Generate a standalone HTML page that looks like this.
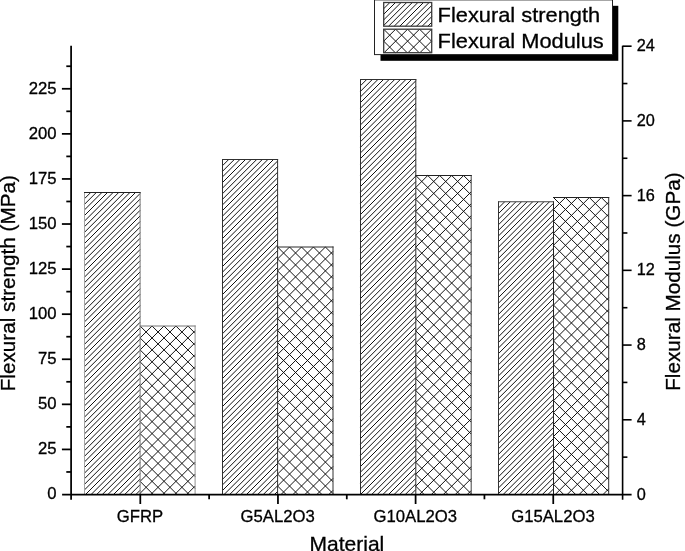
<!DOCTYPE html>
<html><head><meta charset="utf-8"><title>Flexural chart</title>
<style>
html,body{margin:0;padding:0;background:#fff;}
body{width:685px;height:551px;overflow:hidden;}
svg{display:block;font-family:"Liberation Sans",Arial,sans-serif;fill:#000;}
text{stroke:#000;stroke-width:0.3px;}
</style></head><body>
<svg width="685" height="551" viewBox="0 0 685 551">
<rect width="685" height="551" fill="#fff"/>

<g transform="translate(140.10,326.00)"><path d="M0.00,11.95L11.95,0.00M0.00,23.90L23.90,0.00M0.00,35.85L35.85,0.00M0.00,47.80L47.80,0.00M0.00,59.75L55.00,4.75M0.00,71.70L55.00,16.70M0.00,83.65L55.00,28.65M0.00,95.60L55.00,40.60M0.00,107.55L55.00,52.55M0.00,119.50L55.00,64.50M0.00,131.45L55.00,76.45M0.00,143.40L55.00,88.40M0.00,155.35L55.00,100.35M0.00,167.30L55.00,112.30M10.75,168.50L55.00,124.25M22.70,168.50L55.00,136.20M34.65,168.50L55.00,148.15M46.60,168.50L55.00,160.10M0.00,167.30L1.20,168.50M0.00,155.35L13.15,168.50M0.00,143.40L25.10,168.50M0.00,131.45L37.05,168.50M0.00,119.50L49.00,168.50M0.00,107.55L55.00,162.55M0.00,95.60L55.00,150.60M0.00,83.65L55.00,138.65M0.00,71.70L55.00,126.70M0.00,59.75L55.00,114.75M0.00,47.80L55.00,102.80M0.00,35.85L55.00,90.85M0.00,23.90L55.00,78.90M0.00,11.95L55.00,66.95M0.00,0.00L55.00,55.00M11.95,0.00L55.00,43.05M23.90,0.00L55.00,31.10M35.85,0.00L55.00,19.15M47.80,0.00L55.00,7.20" stroke="#0a0a0a" stroke-width="0.97" fill="none"/><path d="M55.00,168.50V0" stroke="#909090" stroke-width="1" fill="none" stroke-linecap="square"/><path d="M0,0H55.00" stroke="#777" stroke-width="1" fill="none" stroke-linecap="square"/></g>
<g transform="translate(84.50,192.50)"><path d="M0.00,6.20L6.20,0.00M0.00,11.80L11.80,0.00M0.00,17.40L17.40,0.00M0.00,23.00L23.00,0.00M0.00,28.60L28.60,0.00M0.00,34.20L34.20,0.00M0.00,39.80L39.80,0.00M0.00,45.40L45.40,0.00M0.00,51.00L51.00,0.00M0.00,56.60L55.60,1.00M0.00,62.20L55.60,6.60M0.00,67.80L55.60,12.20M0.00,73.40L55.60,17.80M0.00,79.00L55.60,23.40M0.00,84.60L55.60,29.00M0.00,90.20L55.60,34.60M0.00,95.80L55.60,40.20M0.00,101.40L55.60,45.80M0.00,107.00L55.60,51.40M0.00,112.60L55.60,57.00M0.00,118.20L55.60,62.60M0.00,123.80L55.60,68.20M0.00,129.40L55.60,73.80M0.00,135.00L55.60,79.40M0.00,140.60L55.60,85.00M0.00,146.20L55.60,90.60M0.00,151.80L55.60,96.20M0.00,157.40L55.60,101.80M0.00,163.00L55.60,107.40M0.00,168.60L55.60,113.00M0.00,174.20L55.60,118.60M0.00,179.80L55.60,124.20M0.00,185.40L55.60,129.80M0.00,191.00L55.60,135.40M0.00,196.60L55.60,141.00M0.00,202.20L55.60,146.60M0.00,207.80L55.60,152.20M0.00,213.40L55.60,157.80M0.00,219.00L55.60,163.40M0.00,224.60L55.60,169.00M0.00,230.20L55.60,174.60M0.00,235.80L55.60,180.20M0.00,241.40L55.60,185.80M0.00,247.00L55.60,191.40M0.00,252.60L55.60,197.00M0.00,258.20L55.60,202.60M0.00,263.80L55.60,208.20M0.00,269.40L55.60,213.80M0.00,275.00L55.60,219.40M0.00,280.60L55.60,225.00M0.00,286.20L55.60,230.60M0.00,291.80L55.60,236.20M0.00,297.40L55.60,241.80M1.00,302.00L55.60,247.40M6.60,302.00L55.60,253.00M12.20,302.00L55.60,258.60M17.80,302.00L55.60,264.20M23.40,302.00L55.60,269.80M29.00,302.00L55.60,275.40M34.60,302.00L55.60,281.00M40.20,302.00L55.60,286.60M45.80,302.00L55.60,292.20M51.40,302.00L55.60,297.80" stroke="#0a0a0a" stroke-width="0.97" fill="none"/><path d="M0,302.00V0" stroke="#a4a4a4" stroke-width="1" fill="none" stroke-linecap="square"/><path d="M55.60,302.00V0" stroke="#777" stroke-width="1" fill="none" stroke-linecap="square"/><path d="M0,0H55.60" stroke="#222" stroke-width="1" fill="none" stroke-linecap="square"/></g>
<g transform="translate(277.60,247.00)"><path d="M0.00,11.95L11.95,0.00M0.00,23.90L23.90,0.00M0.00,35.85L35.85,0.00M0.00,47.80L47.80,0.00M0.00,59.75L55.40,4.35M0.00,71.70L55.40,16.30M0.00,83.65L55.40,28.25M0.00,95.60L55.40,40.20M0.00,107.55L55.40,52.15M0.00,119.50L55.40,64.10M0.00,131.45L55.40,76.05M0.00,143.40L55.40,88.00M0.00,155.35L55.40,99.95M0.00,167.30L55.40,111.90M0.00,179.25L55.40,123.85M0.00,191.20L55.40,135.80M0.00,203.15L55.40,147.75M0.00,215.10L55.40,159.70M0.00,227.05L55.40,171.65M0.00,239.00L55.40,183.60M3.45,247.50L55.40,195.55M15.40,247.50L55.40,207.50M27.35,247.50L55.40,219.45M39.30,247.50L55.40,231.40M51.25,247.50L55.40,243.35M0.00,239.00L8.50,247.50M0.00,227.05L20.45,247.50M0.00,215.10L32.40,247.50M0.00,203.15L44.35,247.50M0.00,191.20L55.40,246.60M0.00,179.25L55.40,234.65M0.00,167.30L55.40,222.70M0.00,155.35L55.40,210.75M0.00,143.40L55.40,198.80M0.00,131.45L55.40,186.85M0.00,119.50L55.40,174.90M0.00,107.55L55.40,162.95M0.00,95.60L55.40,151.00M0.00,83.65L55.40,139.05M0.00,71.70L55.40,127.10M0.00,59.75L55.40,115.15M0.00,47.80L55.40,103.20M0.00,35.85L55.40,91.25M0.00,23.90L55.40,79.30M0.00,11.95L55.40,67.35M0.00,0.00L55.40,55.40M11.95,0.00L55.40,43.45M23.90,0.00L55.40,31.50M35.85,0.00L55.40,19.55M47.80,0.00L55.40,7.60" stroke="#0a0a0a" stroke-width="0.97" fill="none"/><path d="M55.40,247.50V0" stroke="#333" stroke-width="1" fill="none" stroke-linecap="square"/><path d="M0,0H55.40" stroke="#2a2a2a" stroke-width="1" fill="none" stroke-linecap="square"/></g>
<g transform="translate(222.50,159.50)"><path d="M0.00,6.20L6.20,0.00M0.00,11.80L11.80,0.00M0.00,17.40L17.40,0.00M0.00,23.00L23.00,0.00M0.00,28.60L28.60,0.00M0.00,34.20L34.20,0.00M0.00,39.80L39.80,0.00M0.00,45.40L45.40,0.00M0.00,51.00L51.00,0.00M0.00,56.60L55.10,1.50M0.00,62.20L55.10,7.10M0.00,67.80L55.10,12.70M0.00,73.40L55.10,18.30M0.00,79.00L55.10,23.90M0.00,84.60L55.10,29.50M0.00,90.20L55.10,35.10M0.00,95.80L55.10,40.70M0.00,101.40L55.10,46.30M0.00,107.00L55.10,51.90M0.00,112.60L55.10,57.50M0.00,118.20L55.10,63.10M0.00,123.80L55.10,68.70M0.00,129.40L55.10,74.30M0.00,135.00L55.10,79.90M0.00,140.60L55.10,85.50M0.00,146.20L55.10,91.10M0.00,151.80L55.10,96.70M0.00,157.40L55.10,102.30M0.00,163.00L55.10,107.90M0.00,168.60L55.10,113.50M0.00,174.20L55.10,119.10M0.00,179.80L55.10,124.70M0.00,185.40L55.10,130.30M0.00,191.00L55.10,135.90M0.00,196.60L55.10,141.50M0.00,202.20L55.10,147.10M0.00,207.80L55.10,152.70M0.00,213.40L55.10,158.30M0.00,219.00L55.10,163.90M0.00,224.60L55.10,169.50M0.00,230.20L55.10,175.10M0.00,235.80L55.10,180.70M0.00,241.40L55.10,186.30M0.00,247.00L55.10,191.90M0.00,252.60L55.10,197.50M0.00,258.20L55.10,203.10M0.00,263.80L55.10,208.70M0.00,269.40L55.10,214.30M0.00,275.00L55.10,219.90M0.00,280.60L55.10,225.50M0.00,286.20L55.10,231.10M0.00,291.80L55.10,236.70M0.00,297.40L55.10,242.30M0.00,303.00L55.10,247.90M0.00,308.60L55.10,253.50M0.00,314.20L55.10,259.10M0.00,319.80L55.10,264.70M0.00,325.40L55.10,270.30M0.00,331.00L55.10,275.90M1.60,335.00L55.10,281.50M7.20,335.00L55.10,287.10M12.80,335.00L55.10,292.70M18.40,335.00L55.10,298.30M24.00,335.00L55.10,303.90M29.60,335.00L55.10,309.50M35.20,335.00L55.10,315.10M40.80,335.00L55.10,320.70M46.40,335.00L55.10,326.30M52.00,335.00L55.10,331.90" stroke="#0a0a0a" stroke-width="0.97" fill="none"/><path d="M0,335.00V0" stroke="#303030" stroke-width="1" fill="none" stroke-linecap="square"/><path d="M55.10,335.00V0" stroke="#303030" stroke-width="1" fill="none" stroke-linecap="square"/><path d="M0,0H55.10" stroke="#303030" stroke-width="1" fill="none" stroke-linecap="square"/></g>
<g transform="translate(415.80,175.50)"><path d="M0.00,11.95L11.95,0.00M0.00,23.90L23.90,0.00M0.00,35.85L35.85,0.00M0.00,47.80L47.80,0.00M0.00,59.75L55.40,4.35M0.00,71.70L55.40,16.30M0.00,83.65L55.40,28.25M0.00,95.60L55.40,40.20M0.00,107.55L55.40,52.15M0.00,119.50L55.40,64.10M0.00,131.45L55.40,76.05M0.00,143.40L55.40,88.00M0.00,155.35L55.40,99.95M0.00,167.30L55.40,111.90M0.00,179.25L55.40,123.85M0.00,191.20L55.40,135.80M0.00,203.15L55.40,147.75M0.00,215.10L55.40,159.70M0.00,227.05L55.40,171.65M0.00,239.00L55.40,183.60M0.00,250.95L55.40,195.55M0.00,262.90L55.40,207.50M0.00,274.85L55.40,219.45M0.00,286.80L55.40,231.40M0.00,298.75L55.40,243.35M0.00,310.70L55.40,255.30M3.65,319.00L55.40,267.25M15.60,319.00L55.40,279.20M27.55,319.00L55.40,291.15M39.50,319.00L55.40,303.10M51.45,319.00L55.40,315.05M0.00,310.70L8.30,319.00M0.00,298.75L20.25,319.00M0.00,286.80L32.20,319.00M0.00,274.85L44.15,319.00M0.00,262.90L55.40,318.30M0.00,250.95L55.40,306.35M0.00,239.00L55.40,294.40M0.00,227.05L55.40,282.45M0.00,215.10L55.40,270.50M0.00,203.15L55.40,258.55M0.00,191.20L55.40,246.60M0.00,179.25L55.40,234.65M0.00,167.30L55.40,222.70M0.00,155.35L55.40,210.75M0.00,143.40L55.40,198.80M0.00,131.45L55.40,186.85M0.00,119.50L55.40,174.90M0.00,107.55L55.40,162.95M0.00,95.60L55.40,151.00M0.00,83.65L55.40,139.05M0.00,71.70L55.40,127.10M0.00,59.75L55.40,115.15M0.00,47.80L55.40,103.20M0.00,35.85L55.40,91.25M0.00,23.90L55.40,79.30M0.00,11.95L55.40,67.35M0.00,0.00L55.40,55.40M11.95,0.00L55.40,43.45M23.90,0.00L55.40,31.50M35.85,0.00L55.40,19.55M47.80,0.00L55.40,7.60" stroke="#0a0a0a" stroke-width="0.97" fill="none"/><path d="M55.40,319.00V0" stroke="#444" stroke-width="1" fill="none" stroke-linecap="square"/><path d="M0,0H55.40" stroke="#222" stroke-width="1" fill="none" stroke-linecap="square"/></g>
<g transform="translate(360.50,79.50)"><path d="M0.00,6.20L6.20,0.00M0.00,11.80L11.80,0.00M0.00,17.40L17.40,0.00M0.00,23.00L23.00,0.00M0.00,28.60L28.60,0.00M0.00,34.20L34.20,0.00M0.00,39.80L39.80,0.00M0.00,45.40L45.40,0.00M0.00,51.00L51.00,0.00M0.00,56.60L55.30,1.30M0.00,62.20L55.30,6.90M0.00,67.80L55.30,12.50M0.00,73.40L55.30,18.10M0.00,79.00L55.30,23.70M0.00,84.60L55.30,29.30M0.00,90.20L55.30,34.90M0.00,95.80L55.30,40.50M0.00,101.40L55.30,46.10M0.00,107.00L55.30,51.70M0.00,112.60L55.30,57.30M0.00,118.20L55.30,62.90M0.00,123.80L55.30,68.50M0.00,129.40L55.30,74.10M0.00,135.00L55.30,79.70M0.00,140.60L55.30,85.30M0.00,146.20L55.30,90.90M0.00,151.80L55.30,96.50M0.00,157.40L55.30,102.10M0.00,163.00L55.30,107.70M0.00,168.60L55.30,113.30M0.00,174.20L55.30,118.90M0.00,179.80L55.30,124.50M0.00,185.40L55.30,130.10M0.00,191.00L55.30,135.70M0.00,196.60L55.30,141.30M0.00,202.20L55.30,146.90M0.00,207.80L55.30,152.50M0.00,213.40L55.30,158.10M0.00,219.00L55.30,163.70M0.00,224.60L55.30,169.30M0.00,230.20L55.30,174.90M0.00,235.80L55.30,180.50M0.00,241.40L55.30,186.10M0.00,247.00L55.30,191.70M0.00,252.60L55.30,197.30M0.00,258.20L55.30,202.90M0.00,263.80L55.30,208.50M0.00,269.40L55.30,214.10M0.00,275.00L55.30,219.70M0.00,280.60L55.30,225.30M0.00,286.20L55.30,230.90M0.00,291.80L55.30,236.50M0.00,297.40L55.30,242.10M0.00,303.00L55.30,247.70M0.00,308.60L55.30,253.30M0.00,314.20L55.30,258.90M0.00,319.80L55.30,264.50M0.00,325.40L55.30,270.10M0.00,331.00L55.30,275.70M0.00,336.60L55.30,281.30M0.00,342.20L55.30,286.90M0.00,347.80L55.30,292.50M0.00,353.40L55.30,298.10M0.00,359.00L55.30,303.70M0.00,364.60L55.30,309.30M0.00,370.20L55.30,314.90M0.00,375.80L55.30,320.50M0.00,381.40L55.30,326.10M0.00,387.00L55.30,331.70M0.00,392.60L55.30,337.30M0.00,398.20L55.30,342.90M0.00,403.80L55.30,348.50M0.00,409.40L55.30,354.10M0.00,415.00L55.30,359.70M5.60,415.00L55.30,365.30M11.20,415.00L55.30,370.90M16.80,415.00L55.30,376.50M22.40,415.00L55.30,382.10M28.00,415.00L55.30,387.70M33.60,415.00L55.30,393.30M39.20,415.00L55.30,398.90M44.80,415.00L55.30,404.50M50.40,415.00L55.30,410.10" stroke="#0a0a0a" stroke-width="0.97" fill="none"/><path d="M0,415.00V0" stroke="#303030" stroke-width="1" fill="none" stroke-linecap="square"/><path d="M55.30,415.00V0" stroke="#303030" stroke-width="1" fill="none" stroke-linecap="square"/><path d="M0,0H55.30" stroke="#303030" stroke-width="1" fill="none" stroke-linecap="square"/></g>
<g transform="translate(553.50,197.50)"><path d="M0.00,11.95L11.95,0.00M0.00,23.90L23.90,0.00M0.00,35.85L35.85,0.00M0.00,47.80L47.80,0.00M0.00,59.75L55.20,4.55M0.00,71.70L55.20,16.50M0.00,83.65L55.20,28.45M0.00,95.60L55.20,40.40M0.00,107.55L55.20,52.35M0.00,119.50L55.20,64.30M0.00,131.45L55.20,76.25M0.00,143.40L55.20,88.20M0.00,155.35L55.20,100.15M0.00,167.30L55.20,112.10M0.00,179.25L55.20,124.05M0.00,191.20L55.20,136.00M0.00,203.15L55.20,147.95M0.00,215.10L55.20,159.90M0.00,227.05L55.20,171.85M0.00,239.00L55.20,183.80M0.00,250.95L55.20,195.75M0.00,262.90L55.20,207.70M0.00,274.85L55.20,219.65M0.00,286.80L55.20,231.60M1.75,297.00L55.20,243.55M13.70,297.00L55.20,255.50M25.65,297.00L55.20,267.45M37.60,297.00L55.20,279.40M49.55,297.00L55.20,291.35M0.00,286.80L10.20,297.00M0.00,274.85L22.15,297.00M0.00,262.90L34.10,297.00M0.00,250.95L46.05,297.00M0.00,239.00L55.20,294.20M0.00,227.05L55.20,282.25M0.00,215.10L55.20,270.30M0.00,203.15L55.20,258.35M0.00,191.20L55.20,246.40M0.00,179.25L55.20,234.45M0.00,167.30L55.20,222.50M0.00,155.35L55.20,210.55M0.00,143.40L55.20,198.60M0.00,131.45L55.20,186.65M0.00,119.50L55.20,174.70M0.00,107.55L55.20,162.75M0.00,95.60L55.20,150.80M0.00,83.65L55.20,138.85M0.00,71.70L55.20,126.90M0.00,59.75L55.20,114.95M0.00,47.80L55.20,103.00M0.00,35.85L55.20,91.05M0.00,23.90L55.20,79.10M0.00,11.95L55.20,67.15M0.00,0.00L55.20,55.20M11.95,0.00L55.20,43.25M23.90,0.00L55.20,31.30M35.85,0.00L55.20,19.35M47.80,0.00L55.20,7.40" stroke="#0a0a0a" stroke-width="0.97" fill="none"/><path d="M55.20,297.00V0" stroke="#303030" stroke-width="1" fill="none" stroke-linecap="square"/><path d="M0,0H55.20" stroke="#222" stroke-width="1" fill="none" stroke-linecap="square"/></g>
<g transform="translate(498.50,201.75)"><path d="M0.00,6.20L6.20,0.00M0.00,11.80L11.80,0.00M0.00,17.40L17.40,0.00M0.00,23.00L23.00,0.00M0.00,28.60L28.60,0.00M0.00,34.20L34.20,0.00M0.00,39.80L39.80,0.00M0.00,45.40L45.40,0.00M0.00,51.00L51.00,0.00M0.00,56.60L55.00,1.60M0.00,62.20L55.00,7.20M0.00,67.80L55.00,12.80M0.00,73.40L55.00,18.40M0.00,79.00L55.00,24.00M0.00,84.60L55.00,29.60M0.00,90.20L55.00,35.20M0.00,95.80L55.00,40.80M0.00,101.40L55.00,46.40M0.00,107.00L55.00,52.00M0.00,112.60L55.00,57.60M0.00,118.20L55.00,63.20M0.00,123.80L55.00,68.80M0.00,129.40L55.00,74.40M0.00,135.00L55.00,80.00M0.00,140.60L55.00,85.60M0.00,146.20L55.00,91.20M0.00,151.80L55.00,96.80M0.00,157.40L55.00,102.40M0.00,163.00L55.00,108.00M0.00,168.60L55.00,113.60M0.00,174.20L55.00,119.20M0.00,179.80L55.00,124.80M0.00,185.40L55.00,130.40M0.00,191.00L55.00,136.00M0.00,196.60L55.00,141.60M0.00,202.20L55.00,147.20M0.00,207.80L55.00,152.80M0.00,213.40L55.00,158.40M0.00,219.00L55.00,164.00M0.00,224.60L55.00,169.60M0.00,230.20L55.00,175.20M0.00,235.80L55.00,180.80M0.00,241.40L55.00,186.40M0.00,247.00L55.00,192.00M0.00,252.60L55.00,197.60M0.00,258.20L55.00,203.20M0.00,263.80L55.00,208.80M0.00,269.40L55.00,214.40M0.00,275.00L55.00,220.00M0.00,280.60L55.00,225.60M0.00,286.20L55.00,231.20M0.00,291.80L55.00,236.80M4.65,292.75L55.00,242.40M10.25,292.75L55.00,248.00M15.85,292.75L55.00,253.60M21.45,292.75L55.00,259.20M27.05,292.75L55.00,264.80M32.65,292.75L55.00,270.40M38.25,292.75L55.00,276.00M43.85,292.75L55.00,281.60M49.45,292.75L55.00,287.20" stroke="#0a0a0a" stroke-width="0.97" fill="none"/><path d="M0,292.75V0" stroke="#333" stroke-width="1" fill="none" stroke-linecap="square"/><path d="M55.00,292.75V0" stroke="#222" stroke-width="1" fill="none" stroke-linecap="square"/><path d="M0,0H55.00" stroke="#444" stroke-width="1" fill="none" stroke-linecap="square"/></g>
<g stroke="#000" stroke-width="1.75" fill="none">
<path d="M71.1,45.8 V499.8"/>
<path d="M622.6,45.8 V499.8" stroke-width="1.6"/>
<path d="M62.099999999999994,494.5 H631.6"/>
<path d="M66.30,471.96 H71.1"/>
<path d="M61.90,449.42 H71.1"/>
<path d="M66.30,426.88 H71.1"/>
<path d="M61.90,404.34 H71.1"/>
<path d="M66.30,381.80 H71.1"/>
<path d="M61.90,359.26 H71.1"/>
<path d="M66.30,336.72 H71.1"/>
<path d="M61.90,314.18 H71.1"/>
<path d="M66.30,291.64 H71.1"/>
<path d="M61.90,269.10 H71.1"/>
<path d="M66.30,246.56 H71.1"/>
<path d="M61.90,224.02 H71.1"/>
<path d="M66.30,201.48 H71.1"/>
<path d="M61.90,178.94 H71.1"/>
<path d="M66.30,156.40 H71.1"/>
<path d="M61.90,133.86 H71.1"/>
<path d="M66.30,111.32 H71.1"/>
<path d="M61.90,88.78 H71.1"/>
<path d="M66.30,66.24 H71.1"/>
<path d="M622.6,457.14 H627.40" stroke-width="1.6"/>
<path d="M622.6,419.78 H631.60" stroke-width="1.6"/>
<path d="M622.6,382.42 H627.40" stroke-width="1.6"/>
<path d="M622.6,345.06 H631.60" stroke-width="1.6"/>
<path d="M622.6,307.70 H627.40" stroke-width="1.6"/>
<path d="M622.6,270.34 H631.60" stroke-width="1.6"/>
<path d="M622.6,232.98 H627.40" stroke-width="1.6"/>
<path d="M622.6,195.62 H631.60" stroke-width="1.6"/>
<path d="M622.6,158.26 H627.40" stroke-width="1.6"/>
<path d="M622.6,120.90 H631.60" stroke-width="1.6"/>
<path d="M622.6,83.54 H627.40" stroke-width="1.6"/>
<path d="M622.6,46.18 H631.60" stroke-width="1.6"/>
<path d="M140.30,494.5 V504.0"/>
<path d="M209.12,494.5 V499.3"/>
<path d="M277.95,494.5 V504.0"/>
<path d="M346.78,494.5 V499.3"/>
<path d="M415.60,494.5 V504.0"/>
<path d="M484.43,494.5 V499.3"/>
<path d="M553.25,494.5 V504.0"/>
</g>
<g font-size="16.7" text-anchor="end">
<text x="56.6" y="499.30">0</text>
<text x="56.6" y="454.22">25</text>
<text x="56.6" y="409.14">50</text>
<text x="56.6" y="364.06">75</text>
<text x="56.6" y="318.98">100</text>
<text x="56.6" y="273.90">125</text>
<text x="56.6" y="228.82">150</text>
<text x="56.6" y="183.74">175</text>
<text x="56.6" y="138.66">200</text>
<text x="56.6" y="93.58">225</text>
</g>
<g font-size="16.3" text-anchor="start">
<text x="636.8" y="499.50">0</text>
<text x="636.8" y="424.78">4</text>
<text x="636.8" y="350.06">8</text>
<text x="636.8" y="275.34">12</text>
<text x="636.8" y="200.62">16</text>
<text x="636.8" y="125.90">20</text>
<text x="636.8" y="51.18">24</text>
</g>
<g font-size="16.7" text-anchor="middle">
<text x="140.00" y="521.7">GFRP</text>
<text x="277.65" y="521.7">G5AL2O3</text>
<text x="415.30" y="521.7">G10AL2O3</text>
<text x="552.95" y="521.7">G15AL2O3</text>
</g>
<text x="346.9" y="550.6" font-size="21" text-anchor="middle">Material</text>
<text transform="translate(15.3,283.2) rotate(-90)" font-size="20.7" text-anchor="middle">Flexural strength (MPa)</text>
<text transform="translate(680.3,281.6) rotate(-90)" font-size="20.7" text-anchor="middle">Flexural Modulus (GPa)</text>
<rect x="380.5" y="5.8" width="237.8" height="55" fill="#000"/>
<rect x="374.5" y="-0.1" width="238.0" height="54.7" fill="#fff" stroke="#222" stroke-width="1"/>
<g transform="translate(383.70,2.50)"><path d="M0.00,6.20L6.20,0.00M0.00,11.80L11.80,0.00M0.00,17.40L17.40,0.00M0.00,23.00L23.00,0.00M4.90,23.70L28.60,0.00M10.50,23.70L34.20,0.00M16.10,23.70L39.80,0.00M21.70,23.70L45.40,0.00M27.30,23.70L48.00,3.00M32.90,23.70L48.00,8.60M38.50,23.70L48.00,14.20M44.10,23.70L48.00,19.80" stroke="#0a0a0a" stroke-width="0.97" fill="none"/><rect width="48.00" height="23.70" fill="none" stroke="#3a3a3a" stroke-width="1.3"/></g>
<g transform="translate(383.70,29.20)"><path d="M0.00,11.95L11.95,0.00M0.40,23.50L23.90,0.00M12.35,23.50L35.85,0.00M24.30,23.50L47.80,0.00M36.25,23.50L48.00,11.75M0.00,11.95L11.55,23.50M0.00,0.00L23.50,23.50M11.95,0.00L35.45,23.50M23.90,0.00L47.40,23.50M35.85,0.00L48.00,12.15M47.80,0.00L48.00,0.20" stroke="#0a0a0a" stroke-width="0.97" fill="none"/><rect width="48.00" height="23.50" fill="none" stroke="#3a3a3a" stroke-width="1.3"/></g>
<text transform="translate(437.6,21.9) scale(1.04,1)" font-size="21">Flexural strength</text>
<text transform="translate(437.6,48.2) scale(1.04,1)" font-size="21">Flexural Modulus</text>
</svg></body></html>
